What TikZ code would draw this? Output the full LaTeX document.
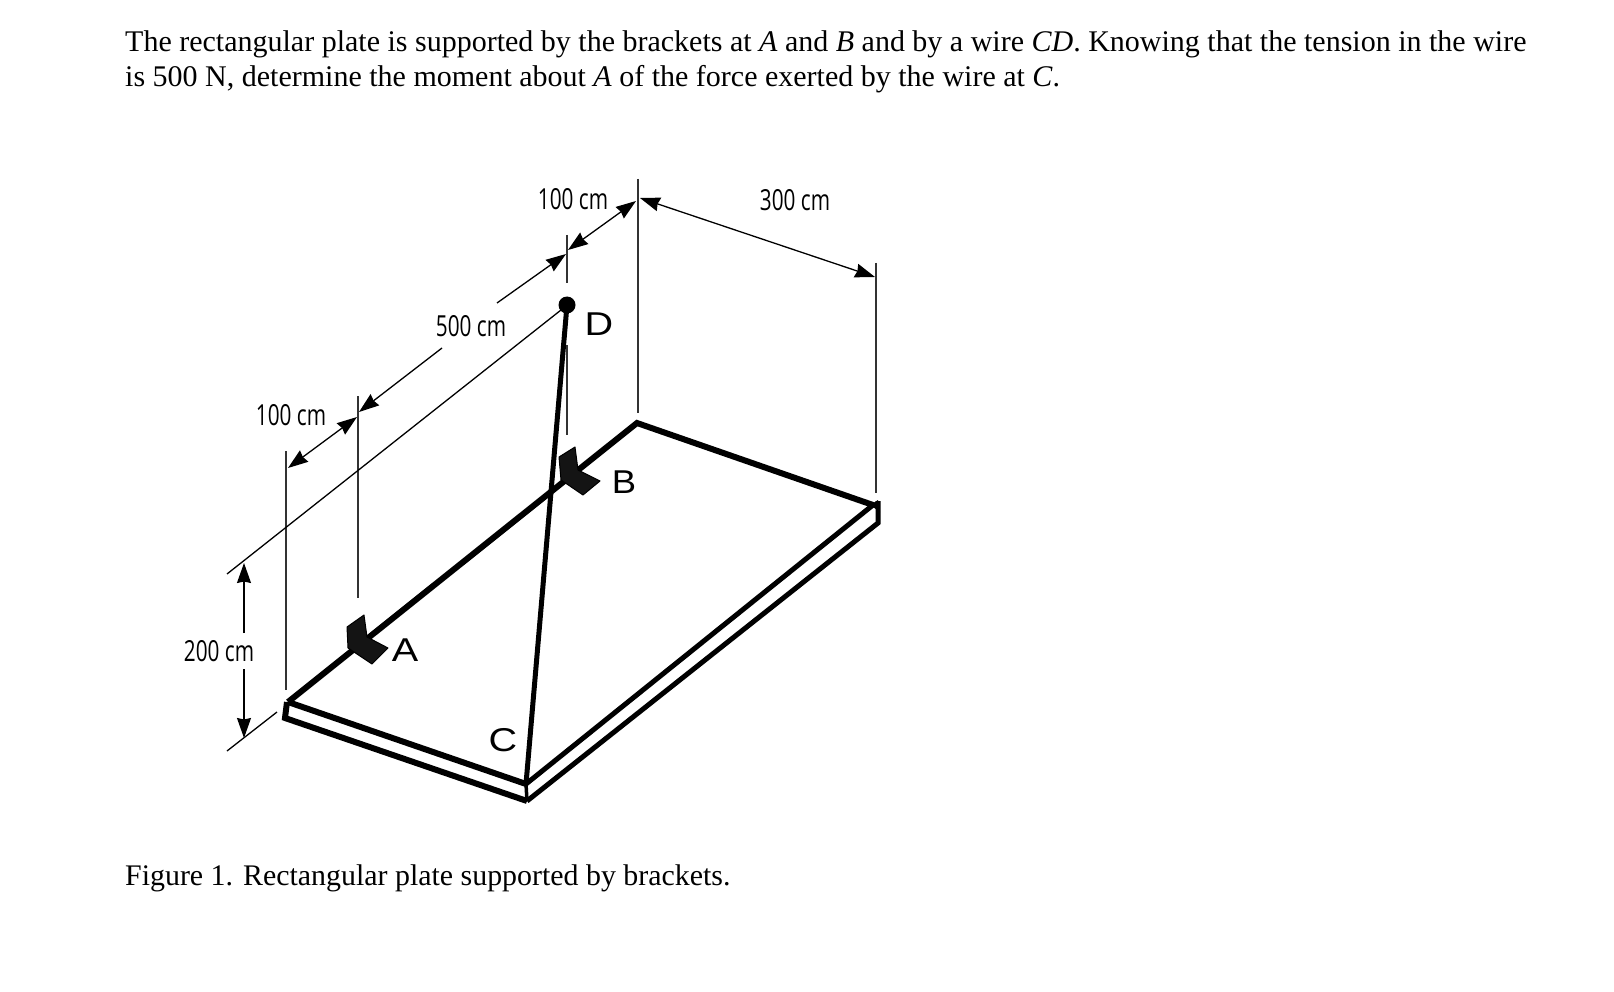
\documentclass[tikz,border=0pt]{standalone}
\usepackage{fontspec}
\setmainfont{Liberation Serif}[ItalicFont={Liberation Serif Italic}]
\newfontfamily\dimfont{Open Sans}
\newfontfamily\lblfont{Liberation Sans}
\usetikzlibrary{arrows.meta}
\tikzset{
  x=1pt,y=-1pt,
  para/.style={anchor=base west,inner sep=0pt,font=\fontsize{30}{34}\selectfont},
  dimlabel/.style={inner sep=0pt,font=\dimfont\fontsize{29}{32}\selectfont,xscale=0.715,transform shape},
  ptlabel/.style={inner sep=0pt,font=\lblfont\fontsize{33}{36}\selectfont,xscale=1.2,transform shape},
  ext/.style={line width=1.4pt,draw=black!80},
  dimline/.style={line width=1.3pt,draw=black},
  tip/.style={-{Stealth[length=20pt,width=14pt,inset=1.5pt]}},
  tips/.style={{Stealth[length=20pt,width=14pt,inset=1.5pt]}-{Stealth[length=20pt,width=14pt,inset=1.5pt]}},
  plate/.style={line width=6pt,draw=black,line join=miter},
  plthin/.style={line width=5pt,draw=black},
  bracket/.style={fill=black!92,draw=black,line width=1pt,line join=round},
}
\begin{document}
\begin{tikzpicture}
\useasboundingbox (0,0) rectangle (1614,992);
\fill[white] (0,0) rectangle (1614,992);
% text
\node[para] (t1) at (125,52) {The rectangular plate is supported by the brackets at \textit{A} and \textit{B} and by a wire \textit{CD}. Knowing that the tension in the wire};
\node[para] (t2) at (125,87) {is 500 N, determine the moment about \textit{A} of the force exerted by the wire at \textit{C}.};
\node[para,font=\fontsize{29.9}{34}\selectfont] (cap) at (125,885) {Figure 1. Rectangular plate supported by brackets.};
% coordinates
\coordinate (L) at (288,702);
\coordinate (K) at (637,423);
\coordinate (R) at (873,505);
\coordinate (Ctop) at (526,784);
\coordinate (Cbot) at (527,801);
\coordinate (Lbot) at (285,718);
\coordinate (Rbot) at (878,523);
\coordinate (D) at (567,305);
% extension lines
\coordinate (v1a) at (638,179); \coordinate (v1b) at (638,413);
\coordinate (v2a) at (876,263); \coordinate (v2b) at (876,493);
\coordinate (v3a) at (567,235); \coordinate (v3b) at (567,283);
\coordinate (v4a) at (567,345); \coordinate (v4b) at (567,435);
\coordinate (v5a) at (358,396); \coordinate (v5b) at (358,598);
\coordinate (v6a) at (286,451); \coordinate (v6b) at (286,690);
\draw[ext] (v1a)--(v1b);
\draw[ext] (v2a)--(v2b);
\draw[ext] (v3a)--(v3b);
\draw[ext] (v4a)--(v4b);
\draw[ext] (v5a)--(v5b);
\draw[ext] (v6a)--(v6b);
% long slanted ext line, lower tick
\coordinate (s1) at (561,310); \coordinate (s2) at (227,574);
\coordinate (s3) at (277,712); \coordinate (s4) at (227,751);
\draw[dimline] (s1)--(s2);
\draw[dimline] (s3)--(s4);
% dim arrows
\coordinate (d1a) at (640,198); \coordinate (d1b) at (875,277);
\draw[dimline,tips] (d1a)--(d1b);
\coordinate (d2a) at (636,201); \coordinate (d2b) at (568,250);
\draw[dimline,tips] (d2a)--(d2b);
\coordinate (d3a) at (497,303); \coordinate (d3b) at (566,254);
\draw[dimline,tip] (d3a)--(d3b);
\coordinate (d4a) at (442,348); \coordinate (d4b) at (359,412);
\draw[dimline,tip] (d4a)--(d4b);
\coordinate (d5a) at (357,417); \coordinate (d5b) at (288,468);
\draw[dimline,tips] (d5a)--(d5b);
\coordinate (d6a) at (244,633); \coordinate (d6b) at (244,563);
\draw[dimline,tip] (d6a)--(d6b);
\coordinate (d7a) at (244,669); \coordinate (d7b) at (244,738);
\draw[dimline,tip] (d7a)--(d7b);
% plate
\draw[plate] (L)--(K)--(R);
\draw[plate] (L)--(Ctop);
\draw[plthin] (Ctop)--(R);
\draw[plate] (287,702)--(Lbot)--(Cbot);
\draw[plthin] (Cbot)--(Rbot)--(878,501);
\draw[line width=3.5pt] (Ctop)--(Cbot);
\fill (870,505)--(878,500)--(880,512)--cycle;
% brackets
\draw[bracket] (347,627)--(364,615)--(367,637)--(388,648)--(372,664)--(348,648)--cycle;
\draw[bracket] (559,457)--(575,447)--(578,470)--(600,481)--(583,495)--(561,480)--cycle;
% wire
\draw[line width=5pt] (D)--(Ctop);
\fill (D) circle (8.5);
% labels
\node[dimlabel] (l100a) at (573,199) {100 cm};
\node[dimlabel] (l300) at (795,200) {300 cm};
\node[dimlabel] (l500) at (471,326) {500 cm};
\node[dimlabel] (l100b) at (291,415) {100 cm};
\node[dimlabel] (l200) at (219,651) {200 cm};
\node[ptlabel] (la) at (405,650) {A};
\node[ptlabel,xscale=0.92] (lb) at (624,482) {B};
\node[ptlabel] (lc) at (503,740) {C};
\node[ptlabel] (ld) at (599,324) {D};
\end{tikzpicture}
\end{document}
